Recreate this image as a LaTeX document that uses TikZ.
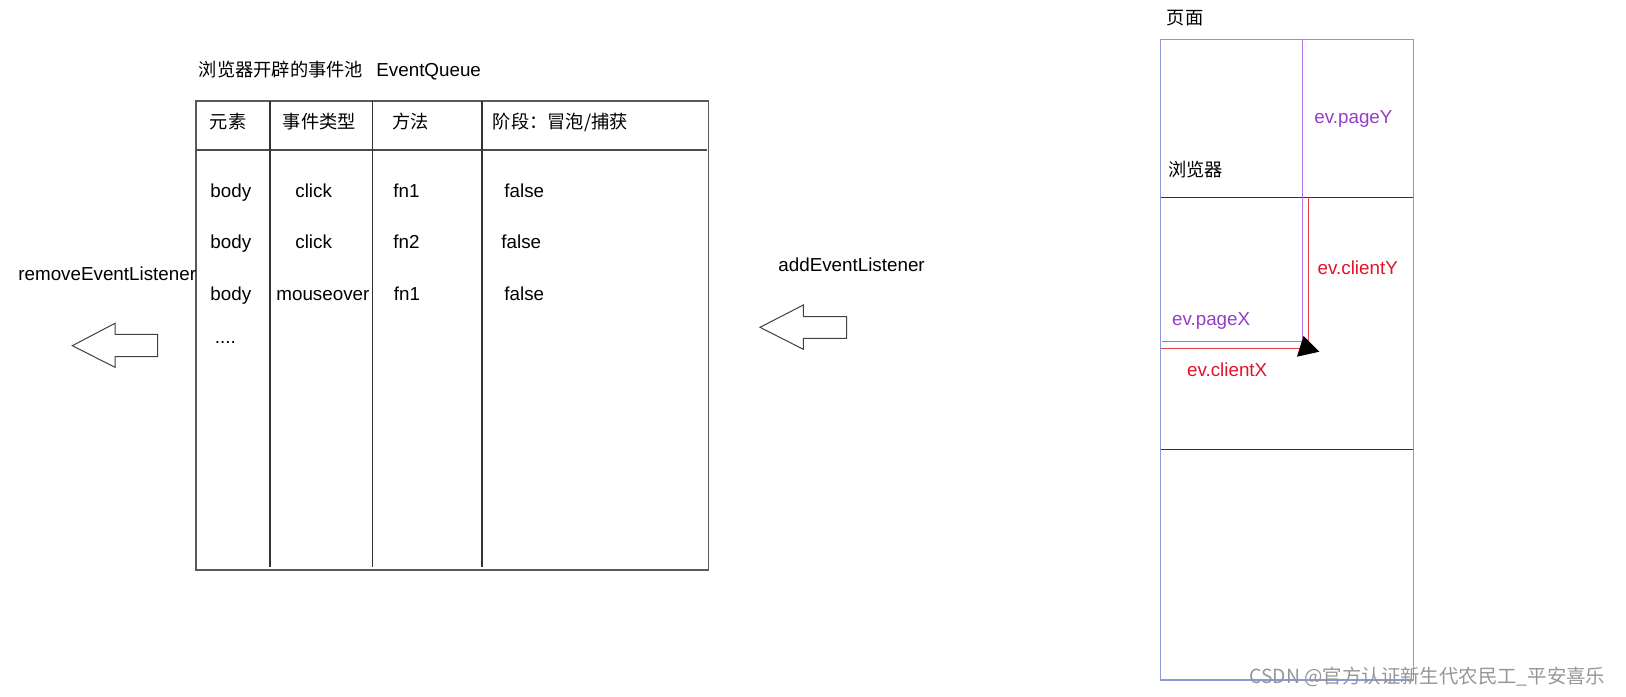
\documentclass[tikz,border=0pt]{standalone}
\usepackage{fontspec}
\setmainfont{Liberation Sans}
\newfontfamily\cjk{Noto Sans CJK SC}[Scale=0.97]
\usepackage{xcolor}
\usetikzlibrary{positioning}

\definecolor{pagepurple}{RGB}{150,60,200}
\definecolor{linepurple}{RGB}{178,112,226}
\definecolor{pagered}{RGB}{226,18,40}
\definecolor{linered}{RGB}{228,60,72}
\definecolor{pageblue}{RGB}{140,152,216}
\definecolor{markgray}{RGB}{150,150,150}

\tikzset{
  txt/.style={anchor=west, inner sep=0pt, font=\fontsize{9.4}{11}\selectfont,
    text height=1.5ex, text depth=.25ex},
  fatarrow/.style={draw=black!75, line width=0.5pt, fill=white},
}

\begin{document}
\begin{tikzpicture}[x=0.5pt, y=-0.5pt]
\useasboundingbox (0,0) rectangle (1626,696);
% event queue
\node[txt] (title) at (198.5,70) {\cjk 浏览器开辟的事件池};
\node[txt] (queue) at (376,70) {EventQueue};
\draw[black!65, line width=0.8pt] (196,100.7) rectangle (708.3,570);
\draw[black!70, line width=0.6pt] (196,150) -- (707,150);
\draw[black!80, line width=0.6pt] (270,100.7) -- (270,567);
\draw[black!80, line width=0.6pt] (372.5,100.7) -- (372.5,567);
\draw[black!80, line width=0.6pt] (482,100.7) -- (482,567);
\node[txt] (elem) at (209.5,122) {\cjk 元素};
\node[txt] (kind) at (282.5,122) {\cjk 事件类型};
\node[txt] (meth) at (392,122) {\cjk 方法};
\node[txt] (phase) at (492.5,122) {\cjk 阶段：冒泡/捕获};
\node[txt] (e1) at (210,191) {body};
\node[txt] (k1) at (295,191) {click};
\node[txt] (m1) at (393,191) {fn1};
\node[txt] (p1) at (504,191) {false};
\node[txt] (e2) at (210,241.5) {body};
\node[txt] (k2) at (295,241.5) {click};
\node[txt] (m2) at (393,241.5) {fn2};
\node[txt] (p2) at (501,241.5) {false};
\node[txt] (e3) at (210,293.5) {body};
\node[txt] (k3) at (276,293.5) {mouseover};
\node[txt] (m3) at (393.5,293.5) {fn1};
\node[txt] (p3) at (504,293.5) {false};
\node[txt] (more) at (214.5,337) {....};
% remove / add
\node[txt] (remove) at (18,274) {removeEventListener};
\draw[fatarrow] (72.3,345.7) -- (115,323.3) -- (115,334.3) -- (157.7,334.3)
  -- (157.7,356.7) -- (115,356.7) -- (115,367.3) -- cycle;
\node[txt] (add) at (778,265) {addEventListener};
\draw[fatarrow] (760,327.3) -- (803.3,305) -- (803.3,316.7) -- (846.7,316.7)
  -- (846.7,338.3) -- (803.3,338.3) -- (803.3,349.3) -- cycle;
% page
\node[txt] (page) at (1166.5,17.5) {\cjk 页面};
\draw[pageblue, line width=0.7pt] (1160.7,39.3) rectangle (1413.3,680);
\draw[black!80, line width=0.5pt] (1160.7,197.3) -- (1413.3,197.3);
\draw[black!80, line width=0.5pt] (1160.7,449) -- (1413.3,449);
\node[txt] (browser) at (1168,170) {\cjk 浏览器};
\draw[linepurple, line width=0.5pt] (1302.3,39.3) -- (1302.3,341) -- (1161.7,341);
\draw[linered, line width=0.5pt] (1308.3,197.3) -- (1308.3,348.3) -- (1160.7,348.3);
\fill (1303.5,336) -- (1319.3,351.7) -- (1297,356.7) -- cycle;
\node[txt, pagepurple] (pagey) at (1314,116.7) {ev.pageY};
\node[txt, pagered] (clienty) at (1317.3,268) {ev.clientY};
\node[txt, pagepurple] (pagex) at (1171.7,319) {ev.pageX};
\node[txt, pagered] (clientx) at (1186.7,369.5) {ev.clientX};
\node[anchor=west, inner sep=0pt, markgray, font=\cjk\fontsize{10}{12}\selectfont]
  (mark) at (1249,677) {CSDN @官方认证新生代农民工\_平安喜乐};
\end{tikzpicture}
\end{document}
